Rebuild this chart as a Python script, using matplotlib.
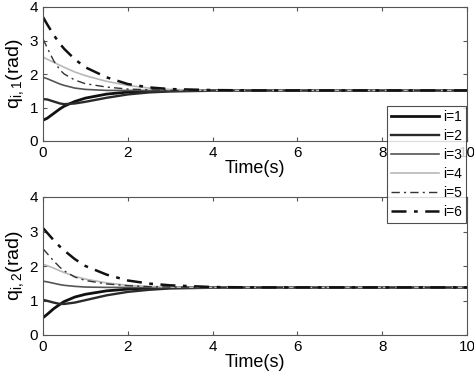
import numpy as np
import matplotlib.pyplot as plt

plt.rcParams['font.family'] = ['Liberation Sans', 'DejaVu Sans']

# time samples (s)
t = [0, 0.1, 0.25, 0.4, 0.5, 0.75, 1.0, 1.5, 2.0, 2.5, 3.0, 4.0, 5.0, 10.0]

# joint 1 trajectories, q_{i,1} (rad)
q1 = {
    'i=1': [0.62, 0.68, 0.82, 0.96, 1.04, 1.18, 1.28, 1.40, 1.46, 1.48, 1.50, 1.51, 1.51, 1.51],
    'i=2': [1.25, 1.24, 1.18, 1.12, 1.10, 1.12, 1.17, 1.29, 1.39, 1.45, 1.48, 1.50, 1.51, 1.51],
    'i=3': [1.90, 1.86, 1.78, 1.70, 1.66, 1.58, 1.54, 1.51, 1.51, 1.51, 1.51, 1.51, 1.51, 1.51],
    'i=4': [2.50, 2.44, 2.35, 2.26, 2.20, 2.06, 1.95, 1.78, 1.66, 1.58, 1.54, 1.51, 1.51, 1.51],
    'i=5': [3.05, 2.78, 2.40, 2.12, 2.00, 1.82, 1.71, 1.61, 1.55, 1.53, 1.51, 1.51, 1.51, 1.51],
    'i=6': [3.70, 3.48, 3.17, 2.90, 2.75, 2.44, 2.20, 1.90, 1.70, 1.60, 1.55, 1.52, 1.51, 1.51],
}

# joint 2 trajectories, q_{i,2} (rad)
q2 = {
    'i=1': [0.50, 0.60, 0.76, 0.89, 0.97, 1.10, 1.18, 1.28, 1.33, 1.36, 1.37, 1.38, 1.38, 1.38],
    'i=2': [1.02, 0.99, 0.94, 0.90, 0.90, 0.94, 1.01, 1.15, 1.25, 1.31, 1.35, 1.37, 1.38, 1.38],
    'i=3': [1.56, 1.54, 1.50, 1.46, 1.44, 1.41, 1.39, 1.38, 1.38, 1.38, 1.38, 1.38, 1.38, 1.38],
    'i=4': [2.05, 2.01, 1.94, 1.86, 1.81, 1.70, 1.62, 1.51, 1.44, 1.41, 1.39, 1.38, 1.38, 1.38],
    'i=5': [2.50, 2.36, 2.15, 1.96, 1.86, 1.68, 1.58, 1.48, 1.43, 1.40, 1.39, 1.38, 1.38, 1.38],
    'i=6': [3.10, 2.96, 2.75, 2.56, 2.45, 2.20, 2.00, 1.75, 1.58, 1.49, 1.44, 1.39, 1.38, 1.38],
}

styles = {
    'i=1': dict(color='#111111', lw=2.0, ls='-'),
    'i=2': dict(color='#2a2a2a', lw=1.7, ls='-'),
    'i=3': dict(color='#555555', lw=1.2, ls='-'),
    'i=4': dict(color='#b8b8b8', lw=1.2, ls='-'),
    'i=5': dict(color='#333333', lw=1.0, ls=(0, (6, 3, 1.5, 3))),
    'i=6': dict(color='#111111', lw=1.8, ls=(0, (6, 3, 1.5, 3))),
}

fig = plt.figure(figsize=(4.74, 3.73), dpi=100)
W, H = 474, 373
ax1 = fig.add_axes([43 / W, 1 - 141 / H, 424 / W, 134 / H])
ax2 = fig.add_axes([43 / W, 1 - 335 / H, 424 / W, 138 / H])

for ax, data, lab in [(ax1, q1, r'q$_{\mathregular{i,1}}$(rad)'), (ax2, q2, r'q$_{\mathregular{i,2}}$(rad)')]:
    for name, vals in data.items():
        ax.plot(t, vals, label=name, **styles[name])
    ax.set_xlim(0, 10)
    ax.set_ylim(0, 4)
    ax.set_xticks([0, 2, 4, 6, 8, 10])
    ax.set_yticks([0, 1, 2, 3, 4])
    ax.tick_params(direction='in', top=True, right=True, labelsize=11, length=3, color='#555555')
    for s in ax.spines.values():
        s.set_color('#555555')
        s.set_linewidth(0.8)
    ax.set_xlabel('Time(s)', fontsize=13, labelpad=0)
    ax.set_ylabel(lab, fontsize=14, labelpad=2)

h, l = ax1.get_legend_handles_labels()
leg = fig.legend(h, l, loc='upper right', bbox_to_anchor=(466 / W, 1 - 106 / H),
                 fontsize=10, handlelength=3.4, frameon=True, fancybox=False,
                 borderpad=0.3, labelspacing=0.36, handletextpad=0.3, borderaxespad=0)
leg.get_frame().set_edgecolor('#222222')
leg.get_frame().set_linewidth(0.8)
leg.set_zorder(10)

fig.savefig('out.png', dpi=100)
